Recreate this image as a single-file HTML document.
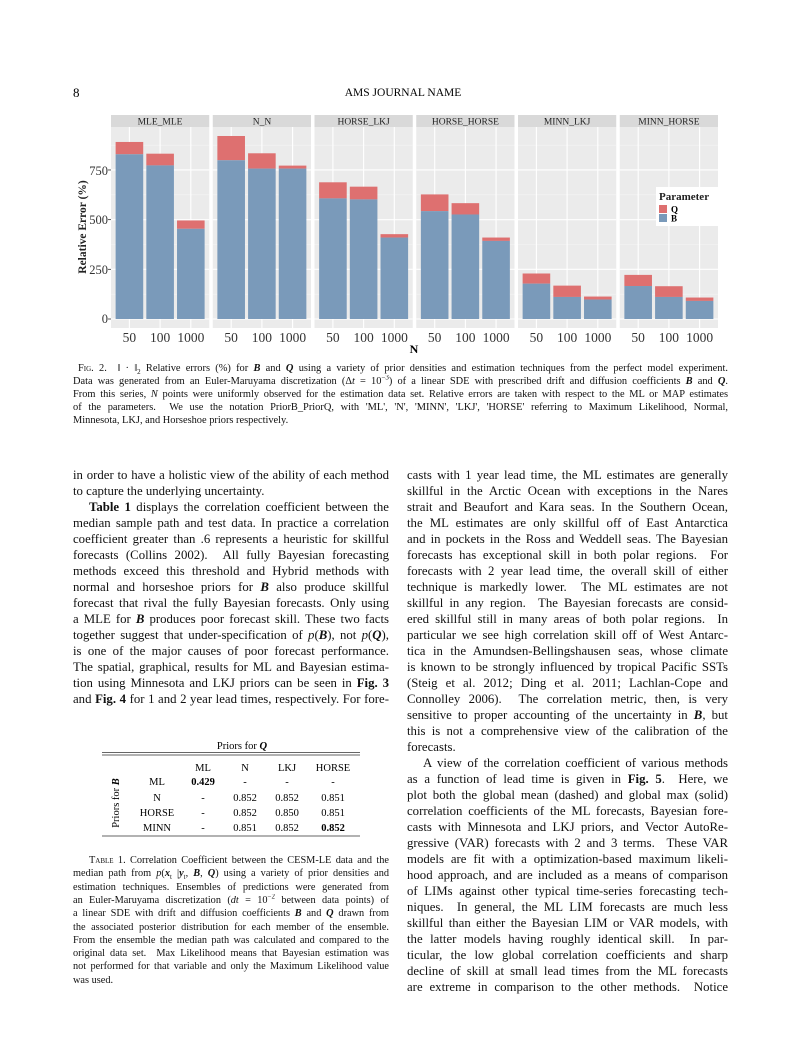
<!DOCTYPE html>
<html><head><meta charset="utf-8">
<style>
html,body{margin:0;padding:0;background:#fff;}
body{width:787px;height:1050px;position:relative;overflow:hidden;font-family:"Liberation Serif",serif;color:#111;}
sub,sup{line-height:0;}
.l{position:absolute;height:16px;line-height:16px;font-size:12.8px;text-align:justify;text-align-last:justify;overflow:hidden;white-space:normal;}
.L{left:73px;width:316px;}
.R{left:407px;width:321px;}
.c{position:absolute;font-size:10.4px;height:13px;line-height:13px;text-align:justify;text-align-last:justify;overflow:hidden;}
.t{position:absolute;left:73px;width:316px;font-size:10.3px;height:13.3px;line-height:13.3px;text-align:justify;text-align-last:justify;overflow:hidden;}
div.nl{text-align-last:left;}
.sc{font-variant:small-caps;}
svg{position:absolute;left:0;top:0;}
</style></head><body>
<svg width="787" height="1050" viewBox="0 0 787 1050" font-family="Liberation Serif, serif">
<text x="73" y="97" font-size="13">8</text>
<text x="403" y="96" font-size="11.5" text-anchor="middle">AMS JOURNAL NAME</text>
<g id="chart"></g>
<text transform="translate(86,227) rotate(-90)" font-size="11.5" font-weight="bold" text-anchor="middle" fill="#222">Relative Error (%)</text>
<g font-size="12.5" fill="#333" text-anchor="end">
<text x="108" y="323">0</text><text x="108" y="274">250</text><text x="108" y="224">500</text><text x="108" y="175">750</text>
</g>
<g font-size="9.5" fill="#222" text-anchor="middle">
<text x="160" y="124.5">MLE_MLE</text><text x="262" y="124.5">N_N</text><text x="363.6" y="124.5">HORSE_LKJ</text>
<text x="465.4" y="124.5">HORSE_HORSE</text><text x="567.1" y="124.5">MINN_LKJ</text><text x="668.9" y="124.5">MINN_HORSE</text>
</g>
<g id="xt" font-size="13.5" fill="#333" text-anchor="middle"></g>
<text x="414" y="353" font-size="12" font-weight="bold" text-anchor="middle">N</text>
<rect x="656" y="187" width="72" height="39" fill="#fff"/>
<text x="659" y="200" font-size="11" font-weight="bold" fill="#222">Parameter</text>
<rect x="659" y="205" width="8" height="8" fill="#de7070"/>
<rect x="659" y="214" width="8" height="8" fill="#7a9aba"/>
<text x="671" y="212.5" font-size="9" font-weight="bold">Q</text>
<text x="671" y="221.5" font-size="9" font-weight="bold">B</text>
<text x="242" y="749" font-size="10.5" text-anchor="middle">Priors for <tspan font-weight="bold" font-style="italic">Q</tspan></text>
<line x1="102" y1="752.5" x2="360" y2="752.5" stroke="#333" stroke-width="0.8"/>
<line x1="102" y1="755" x2="360" y2="755" stroke="#333" stroke-width="0.8"/>
<line x1="102" y1="836" x2="360" y2="836" stroke="#333" stroke-width="0.8"/>
<g font-size="10.5" text-anchor="middle">
<text x="203" y="771">ML</text><text x="245" y="771">N</text><text x="287" y="771">LKJ</text><text x="333" y="771">HORSE</text>
<text x="157" y="785">ML</text><text x="203" y="785" font-weight="bold">0.429</text><text x="245" y="785">-</text><text x="287" y="785">-</text><text x="333" y="785">-</text>
<text x="157" y="801">N</text><text x="203" y="801">-</text><text x="245" y="801">0.852</text><text x="287" y="801">0.852</text><text x="333" y="801">0.851</text>
<text x="157" y="816">HORSE</text><text x="203" y="816">-</text><text x="245" y="816">0.852</text><text x="287" y="816">0.850</text><text x="333" y="816">0.851</text>
<text x="157" y="831">MINN</text><text x="203" y="831">-</text><text x="245" y="831">0.851</text><text x="287" y="831">0.852</text><text x="333" y="831" font-weight="bold">0.852</text>
</g>
<text transform="translate(119,803) rotate(-90)" font-size="10.5" text-anchor="middle">Priors for <tspan font-weight="bold" font-style="italic">B</tspan></text>
</svg>
<script>
(function(){
var ns="http://www.w3.org/2000/svg",g=document.getElementById("chart"),xt=document.getElementById("xt");
function R(x,y,w,h,f){var r=document.createElementNS(ns,"rect");r.setAttribute("x",x);r.setAttribute("y",y);r.setAttribute("width",w);r.setAttribute("height",h);r.setAttribute("fill",f);g.appendChild(r);}
function Ln(x1,y1,x2,y2,s,w){var l=document.createElementNS(ns,"line");l.setAttribute("x1",x1);l.setAttribute("y1",y1);l.setAttribute("x2",x2);l.setAttribute("y2",y2);l.setAttribute("stroke",s);l.setAttribute("stroke-width",w);g.appendChild(l);}
var data=[[891,829,832,773,496,454],[921,799,834,757,772,757],[688,607,666,602,427,410],[627,543,583,526,410,393],[229,178,168,111,113,98],[222,166,165,111,108,91]];
function Y(v){return 319-0.1987*v;}
var labs=["50","100","1000"];
for(var i=0;i<6;i++){
 var p=111+i*101.75,w=98.25;
 R(p,115,w,12,"#d9d9d9");
 R(p,127,w,201,"#ebebeb");
 [125,375,625,875].forEach(function(v){Ln(p,Y(v),p+w,Y(v),"#f5f5f5",0.6);});
 [0,250,500,750].forEach(function(v){Ln(p,Y(v),p+w,Y(v),"#ffffff",1.1);});
 for(var j=0;j<3;j++){var cx=p+30.7*(0.6+j);Ln(cx,127,cx,328,"#ffffff",1.1);}
 for(var j=0;j<3;j++){
  var cx=p+30.7*(0.6+j),q=data[i][2*j],b=data[i][2*j+1];
  R(cx-13.8,Y(q),27.6,Y(b)-Y(q),"#de7070");
  R(cx-13.8,Y(b),27.6,319-Y(b),"#7a9aba");
  var t=document.createElementNS(ns,"text");t.setAttribute("x",cx);t.setAttribute("y",342);t.textContent=labs[j];xt.appendChild(t);
 }
}
[0,250,500,750].forEach(function(v){Ln(108,Y(v),111,Y(v),"#333",0.8);});
})();
</script>

<div class="c" style="left:78px;width:650px;top:361.5px;">F<span class="sc">ig</span>. 2. &nbsp;‖ · ‖<sub style="font-size:7px">2</sub> Relative errors (%) for <b><i>B</i></b> and <b><i>Q</i></b> using a variety of prior densities and estimation techniques from the perfect model experiment.</div>
<div class="c" style="left:73px;width:655px;top:374.5px;">Data was generated from an Euler-Maruyama discretization (Δ<i>t</i> = 10<sup style="font-size:7px">−3</sup>) of a linear SDE with prescribed drift and diffusion coefficients <b><i>B</i></b> and <b><i>Q</i></b>.</div>
<div class="c" style="left:73px;width:655px;top:387.5px;">From this series, <i>N</i> points were uniformly observed for the estimation data set. Relative errors are taken with respect to the ML or MAP estimates</div>
<div class="c" style="left:73px;width:655px;top:400.5px;">of the parameters. &nbsp;We use the notation PriorB_PriorQ, with 'ML', 'N', 'MINN', 'LKJ', 'HORSE' referring to Maximum Likelihood, Normal,</div>
<div class="c nl" style="left:73px;width:655px;top:413.5px;">Minnesota, LKJ, and Horseshoe priors respectively.</div>

<div class="l L" style="top:467px">in order to have a holistic view of the ability of each method</div>
<div class="l L nl" style="top:483px">to capture the underlying uncertainty.</div>
<div class="l L" style="top:499px;left:89px;width:300px"><b>Table 1</b> displays the correlation coefficient between the</div>
<div class="l L" style="top:515px">median sample path and test data. In practice a correlation</div>
<div class="l L" style="top:531px">coefficient greater than .6 represents a heuristic for skillful</div>
<div class="l L" style="top:547px">forecasts (Collins 2002). &nbsp;All fully Bayesian forecasting</div>
<div class="l L" style="top:563px">methods exceed this threshold and Hybrid methods with</div>
<div class="l L" style="top:579px">normal and horseshoe priors for <b><i>B</i></b> also produce skillful</div>
<div class="l L" style="top:595px">forecast that rival the fully Bayesian forecasts. Only using</div>
<div class="l L" style="top:611px">a MLE for <b><i>B</i></b> produces poor forecast skill. These two facts</div>
<div class="l L" style="top:627px">together suggest that under-specification of <i>p</i>(<b><i>B</i></b>), not <i>p</i>(<b><i>Q</i></b>),</div>
<div class="l L" style="top:643px">is one of the major causes of poor forecast performance.</div>
<div class="l L" style="top:659px">The spatial, graphical, results for ML and Bayesian estima-</div>
<div class="l L" style="top:675px">tion using Minnesota and LKJ priors can be seen in <b>Fig. 3</b></div>
<div class="l L" style="top:691px">and <b>Fig. 4</b> for 1 and 2 year lead times, respectively. For fore-</div>

<div class="t" style="top:854px;left:89px;width:300px;">T<span class="sc">able</span> 1. Correlation Coefficient between the CESM-LE data and the</div>
<div class="t" style="top:867.3px">median path from <i>p</i>(<b><i>x</i></b><sub style="font-size:7px">t</sub> |<b><i>y</i></b><sub style="font-size:7px">t</sub>, <b><i>B</i></b>, <b><i>Q</i></b>) using a variety of prior densities and</div>
<div class="t" style="top:880.6px">estimation techniques. Ensembles of predictions were generated from</div>
<div class="t" style="top:893.9px">an Euler-Maruyama discretization (<i>dt</i> = 10<sup style="font-size:7px">−2</sup> between data points) of</div>
<div class="t" style="top:907.2px">a linear SDE with drift and diffusion coefficients <b><i>B</i></b> and <b><i>Q</i></b> drawn from</div>
<div class="t" style="top:920.5px">the associated posterior distribution for each member of the ensemble.</div>
<div class="t" style="top:933.8px">From the ensemble the median path was calculated and compared to the</div>
<div class="t" style="top:947.1px">original data set. &nbsp;Max Likelihood means that Bayesian estimation was</div>
<div class="t" style="top:960.4px">not performed for that variable and only the Maximum Likelihood value</div>
<div class="t nl" style="top:973.7px">was used.</div>

<div class="l R" style="top:467px">casts with 1 year lead time, the ML estimates are generally</div>
<div class="l R" style="top:483px">skillful in the Arctic Ocean with exceptions in the Nares</div>
<div class="l R" style="top:499px">strait and Beaufort and Kara seas. In the Southern Ocean,</div>
<div class="l R" style="top:515px">the ML estimates are only skillful off of East Antarctica</div>
<div class="l R" style="top:531px">and in pockets in the Ross and Weddell seas. The Bayesian</div>
<div class="l R" style="top:547px">forecasts has exceptional skill in both polar regions. &nbsp;For</div>
<div class="l R" style="top:563px">forecasts with 2 year lead time, the overall skill of either</div>
<div class="l R" style="top:579px">technique is markedly lower. &nbsp;The ML estimates are not</div>
<div class="l R" style="top:595px">skillful in any region. &nbsp;The Bayesian forecasts are consid-</div>
<div class="l R" style="top:611px">ered skillful still in many areas of both polar regions. &nbsp;In</div>
<div class="l R" style="top:627px">particular we see high correlation skill off of West Antarc-</div>
<div class="l R" style="top:643px">tica in the Amundsen-Bellingshausen seas, whose climate</div>
<div class="l R" style="top:659px">is known to be strongly influenced by tropical Pacific SSTs</div>
<div class="l R" style="top:675px">(Steig et al. 2012; Ding et al. 2011; Lachlan-Cope and</div>
<div class="l R" style="top:691px">Connolley 2006). &nbsp;The correlation metric, then, is very</div>
<div class="l R" style="top:707px">sensitive to proper accounting of the uncertainty in <b><i>B</i></b>, but</div>
<div class="l R" style="top:723px">this is not a comprehensive view of the calibration of the</div>
<div class="l R nl" style="top:739px">forecasts.</div>
<div class="l R" style="top:755px;left:423px;width:305px">A view of the correlation coefficient of various methods</div>
<div class="l R" style="top:771px">as a function of lead time is given in <b>Fig. 5</b>. &nbsp;Here, we</div>
<div class="l R" style="top:787px">plot both the global mean (dashed) and global max (solid)</div>
<div class="l R" style="top:803px">correlation coefficients of the ML forecasts, Bayesian fore-</div>
<div class="l R" style="top:819px">casts with Minnesota and LKJ priors, and Vector AutoRe-</div>
<div class="l R" style="top:835px">gressive (VAR) forecasts with 2 and 3 terms. &nbsp;These VAR</div>
<div class="l R" style="top:851px">models are fit with a optimization-based maximum likeli-</div>
<div class="l R" style="top:867px">hood approach, and are included as a means of comparison</div>
<div class="l R" style="top:883px">of LIMs against other typical time-series forecasting tech-</div>
<div class="l R" style="top:899px">niques. &nbsp;In general, the ML LIM forecasts are much less</div>
<div class="l R" style="top:915px">skillful than either the Bayesian LIM or VAR models, with</div>
<div class="l R" style="top:931px">the latter models having roughly identical skill. &nbsp;In par-</div>
<div class="l R" style="top:947px">ticular, the low global correlation coefficients and sharp</div>
<div class="l R" style="top:963px">decline of skill at small lead times from the ML forecasts</div>
<div class="l R" style="top:979px">are extreme in comparison to the other methods. &nbsp;Notice</div>
</body></html>
